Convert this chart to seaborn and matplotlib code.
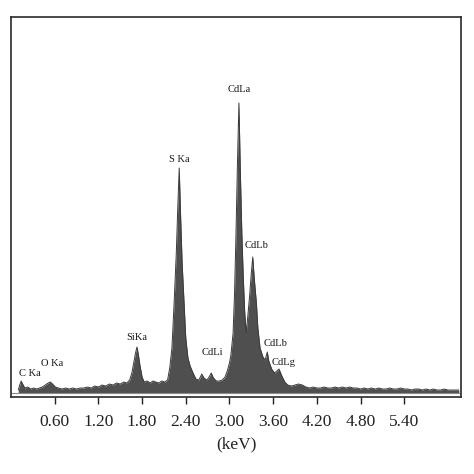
#!/usr/bin/env python3
"""
EDX spectrum of CdS film: S Ka, Cd L lines and minor C/O/Si peaks
"""

import matplotlib
matplotlib.use("Agg")
import matplotlib.pyplot as plt
import seaborn as sns

# energy (keV) and counts (arbitrary units)
energy = [0.10, 0.12, 0.14, 0.16, 0.19, 0.23, 0.27, 0.31, 0.35, 0.39,
          0.43, 0.47, 0.51, 0.54, 0.57, 0.61, 0.65, 0.70, 0.75, 0.80,
          0.85, 0.90, 0.95, 1.00, 1.05, 1.10, 1.15, 1.20, 1.25, 1.30,
          1.35, 1.40, 1.45, 1.50, 1.55, 1.59, 1.63, 1.66, 1.69, 1.71,
          1.73, 1.75, 1.77, 1.80, 1.83, 1.87, 1.91, 1.95, 1.99, 2.03,
          2.07, 2.11, 2.15, 2.18, 2.21, 2.24, 2.27, 2.29, 2.31, 2.33,
          2.35, 2.37, 2.40, 2.43, 2.46, 2.50, 2.54, 2.58, 2.62, 2.65,
          2.69, 2.72, 2.75, 2.78, 2.82, 2.86, 2.90, 2.94, 2.97, 3.00,
          3.02, 3.05, 3.07, 3.09, 3.11, 3.13, 3.15, 3.17, 3.19, 3.21,
          3.23, 3.25, 3.28, 3.30, 3.32, 3.34, 3.37, 3.39, 3.42, 3.46,
          3.49, 3.52, 3.54, 3.58, 3.62, 3.65, 3.68, 3.72, 3.76, 3.80,
          3.85, 3.90, 3.95, 4.00, 4.05, 4.10, 4.15, 4.20, 4.25, 4.30,
          4.35, 4.40, 4.45, 4.50, 4.55, 4.60, 4.65, 4.70, 4.75, 4.80,
          4.85, 4.90, 4.95, 5.00, 5.05, 5.10, 5.15, 5.20, 5.25, 5.30,
          5.35, 5.40, 5.45, 5.50, 5.55, 5.60, 5.65, 5.70, 5.75, 5.80,
          5.85, 5.90, 5.95, 6.00, 6.05, 6.10, 6.15]
counts = [3, 8, 12, 9, 5, 6, 4, 5, 4, 5,
          6, 8, 10, 11, 9, 6, 5, 4, 5, 4,
          5, 4, 5, 5, 6, 5, 7, 6, 8, 7,
          9, 8, 10, 9, 11, 10, 13, 20, 32, 40,
          46, 38, 28, 16, 11, 12, 10, 12, 11, 10,
          12, 11, 13, 25, 45, 90, 140, 185, 225, 175,
          130, 100, 55, 35, 27, 20, 14, 13, 19, 15,
          13, 16, 20, 15, 12, 12, 13, 16, 22, 30,
          38, 60, 100, 160, 230, 290, 220, 160, 115, 80,
          60, 75, 100, 120, 136, 115, 90, 65, 45, 36,
          33, 41, 32, 24, 20, 22, 24, 17, 11, 8,
          7, 8, 9, 8, 6, 5, 6, 5, 5, 6,
          5, 5, 6, 5, 6, 5, 6, 5, 5, 4,
          5, 4, 5, 4, 5, 4, 4, 5, 4, 4,
          5, 4, 4, 3, 4, 4, 3, 4, 3, 4,
          3, 3, 4, 3, 3, 3, 3]

# peak labels
peak_names = ["C Ka", "O Ka", "SiKa", "S Ka", "CdLi", "CdLa", "CdLb", "CdLb", "CdLg"]
peak_x = [0.26, 0.57, 1.73, 2.31, 2.77, 3.13, 3.37, 3.63, 3.74]
peak_y = [20, 30, 56, 234, 41, 304, 148, 50, 31]

tick_vals = [0.60, 1.20, 1.80, 2.40, 3.00, 3.60, 4.20, 4.80, 5.40]

sns.set_style("white")
plt.rcParams["font.family"] = ["Liberation Serif", "DejaVu Serif"]

fig = plt.figure(figsize=(4.74, 4.74), dpi=100)
ax = fig.add_axes([0.0232, 0.1624, 0.9494, 0.8017])

fill_col = "#4f4f4f"
ax.fill_between(energy, counts, 0, color=fill_col, linewidth=0)
sns.lineplot(x=energy, y=counts, color="#3a3a3a", linewidth=0.7, ax=ax)
ax.axhline(0, color="#8a8a8a", linewidth=0.8)

for name, x, y in zip(peak_names, peak_x, peak_y):
    ax.text(x, y, name, ha="center", va="center", fontsize=7.6, color="#1a1a1a")

ax.set_xlim(0, 6.18)
ax.set_ylim(-4, 376)
ax.set_xticks(tick_vals)
ax.set_xticklabels([f"{v:.2f}" for v in tick_vals])
ax.set_yticks([])
ax.tick_params(axis="x", direction="out", length=5, width=1, pad=7,
               labelsize=12.5, colors="#222222", bottom=True)
ax.set_xlabel("(keV)", fontsize=12.5, color="#222222", labelpad=5)
ax.set_ylabel("")
for side in ax.spines.values():
    side.set_color("#2a2a2a")
    side.set_linewidth(1.2)

fig.savefig("out.png", dpi=100)
